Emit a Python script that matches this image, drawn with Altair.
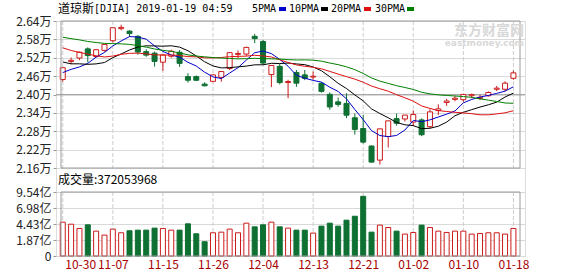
import altair as alt
import pandas as pd

# ---------------- data ----------------
dates = ["10-30", "10-31", "11-01", "11-02", "11-05", "11-06", "11-07", "11-08", "11-09",
         "11-12", "11-13", "11-14", "11-15", "11-16", "11-19", "11-20", "11-21", "11-23",
         "11-26", "11-27", "11-28", "11-29", "11-30", "12-03", "12-04", "12-06", "12-07",
         "12-10", "12-11", "12-12", "12-13", "12-14", "12-17", "12-18", "12-19", "12-20",
         "12-21", "12-24", "12-26", "12-27", "12-28", "12-31", "01-02", "01-03", "01-04",
         "01-07", "01-08", "01-09", "01-10", "01-11", "01-14", "01-15", "01-16", "01-17",
         "01-18"]

open_ = [24490, 25080, 25190, 25490, 25240, 25440, 25755, 26150, 26070, 25900, 25400,
         25350, 25055, 25250, 25380, 24585, 24585, 24340, 24430, 24560, 24850, 25310,
         25320, 25900, 25730, 24650, 24920, 24390, 24720, 24640, 24570, 24366, 24006,
         23760, 23710, 23240, 22890, 22317, 21857, 22629, 23213, 23200, 23100, 23170,
         22950, 23480, 23740, 23840, 23830, 23960, 23870, 23960, 24170, 24170, 24530]
high = [24880, 25210, 25400, 25540, 25480, 25650, 26180, 26277, 26100, 25940, 25480,
        25400, 25300, 25460, 25450, 24694, 24620, 24400, 24650, 24760, 25370, 25440,
        25560, 25980, 25780, 24960, 25000, 24480, 24800, 24800, 24750, 24400, 24070,
        23900, 24040, 23380, 23328, 22339, 22878, 23139, 23381, 23333, 23480, 23220,
        23520, 23680, 23860, 23950, 24010, 24030, 23990, 24100, 24280, 24430, 24778]
low = [24420, 24990, 25120, 25050, 25210, 25400, 25700, 26096, 25880, 25300, 25230,
       24913, 24771, 25200, 24900, 24388, 24440, 24260, 24400, 24420, 24800, 25190,
       25260, 25680, 24980, 24242, 24330, 23880, 24250, 24470, 24480, 24060, 23500,
       23600, 23230, 22690, 22397, 21792, 21712, 22267, 22981, 23118, 22970, 22640,
       22900, 23330, 23630, 23780, 23760, 23880, 23820, 23930, 24110, 24100, 24480]
close = [24875, 25116, 25381, 25271, 25462, 25635, 26180, 26191, 25989, 25387, 25286,
         25081, 25289, 25413, 25017, 24466, 24465, 24286, 24640, 24749, 25366, 25339,
         25538, 25826, 25027, 24948, 24389, 24423, 24370, 24527, 24597, 24101, 23593,
         23676, 23324, 22860, 22445, 21792, 22878, 23139, 23062, 23327, 23346, 22686,
         23433, 23531, 23787, 23879, 24002, 23996, 23910, 24066, 24207, 24370, 24706]

# volume in 亿 (1e8 shares)
volume = [4.72, 4.40, 3.72, 4.30, 3.29, 2.66, 3.61, 3.03, 3.35, 3.45, 3.45, 3.77, 3.72,
          3.45, 3.45, 4.46, 2.87, 1.60, 3.03, 3.13, 3.61, 3.03, 4.56, 3.98, 4.30, 4.72,
          3.98, 3.77, 3.45, 3.45, 2.98, 4.09, 4.56, 4.09, 5.04, 5.67, 8.85, 3.13, 4.25,
          3.87, 3.29, 2.82, 3.08, 4.25, 3.87, 3.29, 3.08, 3.29, 3.29, 2.82, 2.92, 3.03,
          3.03, 2.82, 3.72]

ma5 = [24715, 24821, 24901, 25017, 25221, 25373, 25586, 25748, 25891, 25876, 25807,
       25587, 25406, 25291, 25217, 25053, 24930, 24729, 24575, 24521, 24701, 24876,
       25126, 25364, 25419, 25336, 25146, 24923, 24631, 24531, 24461, 24404, 24238,
       24099, 23858, 23511, 23180, 22819, 22660, 22623, 22663, 22840, 23150, 23112,
       23171, 23265, 23357, 23463, 23726, 23839, 23915, 23971, 24036, 24110, 24252]
ma10 = [25061, 25002, 25002, 24985, 25000, 25044, 25204, 25324, 25454, 25549, 25590,
        25586, 25577, 25591, 25547, 25430, 25258, 25068, 24933, 24869, 24877, 24903,
        24928, 24969, 24970, 25018, 25011, 25025, 24998, 24975, 24898, 24775, 24580,
        24365, 24195, 23986, 23792, 23529, 23379, 23241, 23087, 23010, 22985, 22886,
        22897, 22964, 23098, 23307, 23419, 23505, 23590, 23664, 23750, 23918, 24045]
ma20 = [25524, 25438, 25376, 25317, 25266, 25226, 25255, 25312, 25344, 25351, 25326,
        25294, 25290, 25288, 25273, 25237, 25231, 25196, 25194, 25209, 25234, 25245,
        25253, 25280, 25259, 25224, 25135, 25046, 24965, 24922, 24888, 24839, 24754,
        24667, 24583, 24502, 24401, 24277, 24188, 24108, 23993, 23892, 23783, 23626,
        23546, 23475, 23445, 23418, 23399, 23373, 23338, 23337, 23367, 23402, 23471]
ma30 = [25868, 25825, 25783, 25733, 25697, 25668, 25661, 25653, 25637, 25595, 25546,
        25487, 25443, 25408, 25359, 25294, 25256, 25231, 25207, 25190, 25176, 25164,
        25169, 25182, 25172, 25164, 25158, 25139, 25128, 25131, 25122, 25088, 25028,
        24975, 24904, 24811, 24687, 24540, 24437, 24362, 24288, 24229, 24164, 24073,
        24021, 23989, 23967, 23953, 23932, 23907, 23858, 23816, 23772, 23723, 23712]

price_ticks = [21600, 22200, 22800, 23400, 24000, 24600, 25200, 25800, 26400]
vol_ticks = [-0.68, 1.87, 4.43, 6.98, 9.54]
date_tick_idx = [0, 6, 12, 18, 24, 30, 36, 42, 48, 54]
ma_names = ["5PMA", "10PMA", "20PMA", "30PMA"]
header_name = "道琼斯"
header_rest = "[DJIA] 2019-01-19 04:59"
last_volume = 372053968

# ---------------- styling ----------------
CJK = "Noto Sans CJK SC"
MONO = "DejaVu Sans Mono"
RED = "#cc1a1a"
GREEN = "#0e7032"
MA_COLORS = ["#0000cc", "#000000", "#dd1111", "#008000"]
GRID = "#d9d9d9"
FRAME = "#9a9a9a"

W, H = 469, 235
TOP_H = 147
VOL_TOP = 171

X_DOMAIN = [-0.21, 54.79]
P_DOMAIN = [price_ticks[0], price_ticks[-1]]
V_DOMAIN = [vol_ticks[0], vol_ticks[-1]]

df = pd.DataFrame({
    "i": list(range(len(dates))), "date": dates,
    "open": open_, "high": high, "low": low, "close": close, "vol": volume,
    "ma5": ma5, "ma10": ma10, "ma20": ma20, "ma30": ma30,
})
df["dir"] = ["up" if c >= o else "down" for o, c in zip(open_, close)]
df["vbase"] = V_DOMAIN[0]

first_tick = "datum.value == %d" % date_tick_idx[0]
label_expr = "[" + ",".join("'%s'" % d for d in dates) + "][round(datum.value)]"
xscale = alt.Scale(domain=X_DOMAIN, nice=False, zero=False)
xaxis = alt.Axis(values=date_tick_idx, labelExpr=label_expr, title=None, grid=False,
                 domain=False, ticks=False, labelColor="#a80000", labelFont=CJK,
                 labelFontSize=12, labelPadding=3,
                 labelAlign={"condition": {"test": first_tick, "value": "left"},
                             "value": "center"},
                 labelOffset={"condition": {"test": first_tick, "value": 2}, "value": 0})

pscale = alt.Scale(domain=P_DOMAIN, range=[TOP_H, 0], nice=False, zero=False)
paxis = alt.Axis(values=price_ticks, orient="left", title=None, grid=True, gridColor=GRID,
                 domain=False, tickSize=3, tickColor=FRAME, labelColor="#222222",
                 labelFont=CJK, labelFontSize=12, labelPadding=2,
                 labelExpr="format(datum.value/10000, '.2f') + '万'")

vscale = alt.Scale(domain=V_DOMAIN, range=[H, VOL_TOP], nice=False, zero=False)
vaxis = alt.Axis(values=vol_ticks, orient="left", title=None, grid=True, gridColor=GRID,
                 domain=False, tickSize=3, tickColor=FRAME, labelColor="#222222",
                 labelFont=CJK, labelFontSize=12, labelPadding=2,
                 labelExpr="datum.value < 0 ? '0' : format(datum.value, '.2f') + '亿'")

stroke_scale = alt.Scale(domain=["up", "down"], range=[RED, GREEN])
fill_scale = alt.Scale(domain=["up", "down"], range=["#ffffff", GREEN])

X = alt.X("i:Q", scale=xscale, axis=xaxis)

base = alt.Chart(df)

# grid / frame helpers
vgrid = pd.DataFrame({"i": date_tick_idx})
vgrid["ptop"] = P_DOMAIN[1]
vgrid["pbot"] = P_DOMAIN[0]
vgrid["vtop"] = V_DOMAIN[1]
vgrid["vbot"] = V_DOMAIN[0]
frame = pd.DataFrame({"x0": [X_DOMAIN[0]], "x1": [X_DOMAIN[1]],
                      "p0": [P_DOMAIN[0]], "p1": [P_DOMAIN[1]],
                      "v0": [V_DOMAIN[0]], "v1": [V_DOMAIN[1]]})
midline = pd.DataFrame({"v": [price_ticks[4]]})

# ---------------- price panel ----------------
p_vgrid = alt.Chart(vgrid).mark_rule(color="#cccccc", strokeDash=[4, 2], strokeWidth=1).encode(
    x=X, y=alt.Y("ptop:Q", scale=pscale, axis=paxis), y2="pbot:Q")
p_mid = alt.Chart(midline).mark_rule(color="#a8a8a8", strokeWidth=1).encode(
    y=alt.Y("v:Q", scale=pscale, axis=paxis))
wick = base.mark_rule(strokeWidth=1).encode(
    x=X, y=alt.Y("low:Q", scale=pscale, axis=paxis), y2="high:Q",
    stroke=alt.Stroke("dir:N", scale=stroke_scale, legend=None))
body = base.mark_bar(size=5, strokeWidth=1).encode(
    x=X, y=alt.Y("open:Q", scale=pscale, axis=paxis), y2="close:Q",
    fill=alt.Fill("dir:N", scale=fill_scale, legend=None),
    stroke=alt.Stroke("dir:N", scale=stroke_scale, legend=None))
ma_layers = [
    base.mark_line(color=c, strokeWidth=1).encode(
        x=X, y=alt.Y(f"{f}:Q", scale=pscale, axis=paxis))
    for f, c in zip(["ma5", "ma10", "ma20", "ma30"], MA_COLORS)
]
p_frame = alt.Chart(frame).mark_rect(fillOpacity=0, stroke=FRAME, strokeWidth=1).encode(
    x=alt.X("x0:Q", scale=xscale, axis=xaxis), x2="x1:Q",
    y=alt.Y("p0:Q", scale=pscale, axis=paxis), y2="p1:Q")

price_panel = alt.layer(p_vgrid, p_mid, wick, body, *ma_layers, p_frame)

# ---------------- volume panel ----------------
v_vgrid = alt.Chart(vgrid).mark_rule(color="#cccccc", strokeDash=[4, 2], strokeWidth=1).encode(
    x=X, y=alt.Y("vtop:Q", scale=vscale, axis=vaxis), y2="vbot:Q")
vbars = base.mark_bar(size=5, strokeWidth=1).encode(
    x=X, y=alt.Y("vol:Q", scale=vscale, axis=vaxis), y2="vbase:Q",
    fill=alt.Fill("dir:N", scale=fill_scale, legend=None),
    stroke=alt.Stroke("dir:N", scale=stroke_scale, legend=None))
v_frame = alt.Chart(frame).mark_rect(fillOpacity=0, stroke=FRAME, strokeWidth=1).encode(
    x=alt.X("x0:Q", scale=xscale, axis=xaxis), x2="x1:Q",
    y=alt.Y("v0:Q", scale=vscale, axis=vaxis), y2="v1:Q")

vol_panel = alt.layer(v_vgrid, vbars, v_frame)

# ---------------- texts ----------------
def text_layer(txt, x, y, font, size, color="#000000", align="left", weight="normal"):
    return alt.Chart(pd.DataFrame({"t": [txt]})).mark_text(
        align=align, baseline="middle", font=font, fontSize=size, color=color,
        fontWeight=weight).encode(text="t:N", x=alt.value(x), y=alt.value(y))

texts = [
    text_layer(header_name, 2, -12, CJK, 12),
    text_layer(header_rest, 38, -12, MONO, 10),
    text_layer("成交量:" + str(last_volume), 2, 159, CJK, 12),
    text_layer("东方财富网", 468, 10, CJK, 14, color="#d8d8d8", align="right", weight="bold"),
    text_layer("eastmoney.com", 468, 22, "DejaVu Sans", 9, color="#d8d8d8", align="right",
               weight="bold"),
]
leg_text_x = [196, 233, 275, 319]
leg_bar_x = [223, 265, 308, 351]
for name, c, tx, bx in zip(ma_names, MA_COLORS, leg_text_x, leg_bar_x):
    texts.append(text_layer(name, tx, -12, MONO, 10))
    texts.append(alt.Chart(pd.DataFrame({"t": [name]})).mark_rect(color=c).encode(
        x=alt.value(bx), x2=alt.value(bx + 7), y=alt.value(-14), y2=alt.value(-10)))

chart = alt.layer(price_panel, vol_panel, *texts).resolve_scale(
    y="independent"
).properties(
    width=W, height=H,
    autosize=alt.AutoSizeParams(type="none"),
    padding={"left": 56, "top": 21, "right": 53, "bottom": 20},
).configure_view(stroke=None).configure(background="#ffffff")

chart.save("out.html", embed_options={"renderer": "svg", "actions": False})
